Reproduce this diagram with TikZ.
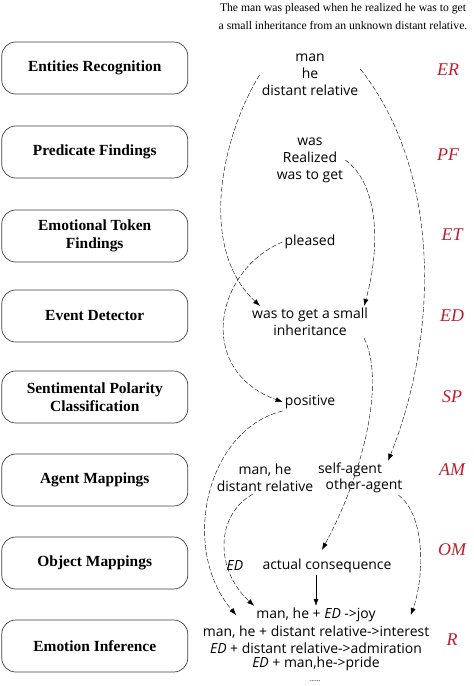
\documentclass[tikz,border=0pt]{standalone}
\usepackage{fontspec}
\setmainfont{Liberation Serif}
\newfontfamily\uifont{Open Sans}
\usetikzlibrary{arrows.meta}
\definecolor{tagred}{RGB}{190,30,45}

\begin{document}
\begin{tikzpicture}[x=1bp,y=-1bp,
  stage/.style={draw=black!75, line width=.7bp, rounded corners=14bp, minimum width=186bp, minimum height=52bp, align=center, font=\fontsize{15.5}{18}\selectfont\bfseries},
  tag/.style={text=tagred, font=\fontsize{18}{20}\selectfont\itshape},
  word/.style={align=center, inner sep=2bp, font=\uifont\fontsize{14}{17}\selectfont},
  flow/.style={-{Latex[length=7bp,width=5bp]}, thin, dash pattern=on 5bp off 2bp}]

\useasboundingbox (0,0) rectangle (474,686);

\node[align=center, inner sep=0pt, font=\fontsize{11.7}{18}\selectfont] (sent) at (343,17)
  {The man was pleased when he realized he was to get\\a small inheritance from an unknown distant relative.};

% les etapes a gauche
\foreach \n/\y/\t in {er/68/{Entities Recognition}, pf/152/{Predicate Findings}, et/236/{Emotional Token\\Findings},
    ed/316/{Event Detector}, sp/397/{Sentimental Polarity\\Classification}, am/480/{Agent Mappings},
    om/563/{Object Mappings}, r/646/{Emotion Inference}}{
    \node[stage] (b\n) at (94.75,\y) {\t};
}

% les sigles a droite
\foreach \n/\x/\y/\t in {er/448/70/ER, pf/448/155/PF, et/452/235/ET, ed/452/316/ED,
    sp/452/397/SP, am/452/470/AM, om/452/550/OM, r/452/640/R}{
    \node[tag] (t\n) at (\x,\y) {\t};
}

\node[word] (er) at (310,75) {man\\he\\distant relative};
\node[word] (pf) at (310,160) {was\\Realized\\was to get};
\node[word] (et) at (310,242) {pleased};
\node[word] (ed) at (310,322) {was to get a small\\inheritance};
\node[word] (sp) at (310,402) {positive};
\node[word] (amL) at (265,478) {man, he\\distant relative};
\node[word] (amS) at (350,470) {self-agent};
\node[word] (amO) at (364,486) {other-agent};
\node[word] (omED) at (235,566) {\itshape ED};
\node[word] (omAC) at (327,566) {actual consequence};
\node[word] (r1) at (316,615) {man, he + \textit{ED} ->joy};
\node[word] (r2) at (316,632) {man, he + distant relative->interest};
\node[word] (r3) at (316,648) {\textit{ED} + distant relative->admiration};
\node[word] (r4) at (316,664) {\textit{ED} + man,he->pride};
\node[word, font=\uifont\fontsize{7}{8}\selectfont] (rdots) at (315,681) {......};

% les fleches
\draw[flow] (er.west) .. controls (225,130) and (195,245) .. ([xshift=10bp]ed.north west);
\draw[flow] ([yshift=6bp]er.east) .. controls (440,170) and (440,330) .. ([xshift=4bp]amS.north east);
\draw[flow] (pf.east) .. controls (380,185) and (380,250) .. ([xshift=-6bp]ed.north east);
\draw[flow] (et.west) .. controls (215,270) and (195,370) .. (sp.west);
\draw[flow] ([xshift=-6bp]ed.south east) .. controls (385,380) and (365,470) .. ([xshift=-5bp,yshift=7bp]omAC.north);
\draw[flow] (sp.south west) .. controls (205,430) and (180,550) .. ([xshift=-18bp]r1.west);
\draw[flow] ([xshift=-12bp]amL.south) .. controls (215,515) and (215,570) .. (r1.north west);
\draw[-{Latex[length=7bp,width=5bp]}, thin] (omAC.south -| r1.north) -- (r1.north);
\draw[flow] ([xshift=-6bp]amO.south east) .. controls (425,515) and (425,575) .. ([xshift=33bp]r1.east);

\end{tikzpicture}
\end{document}
